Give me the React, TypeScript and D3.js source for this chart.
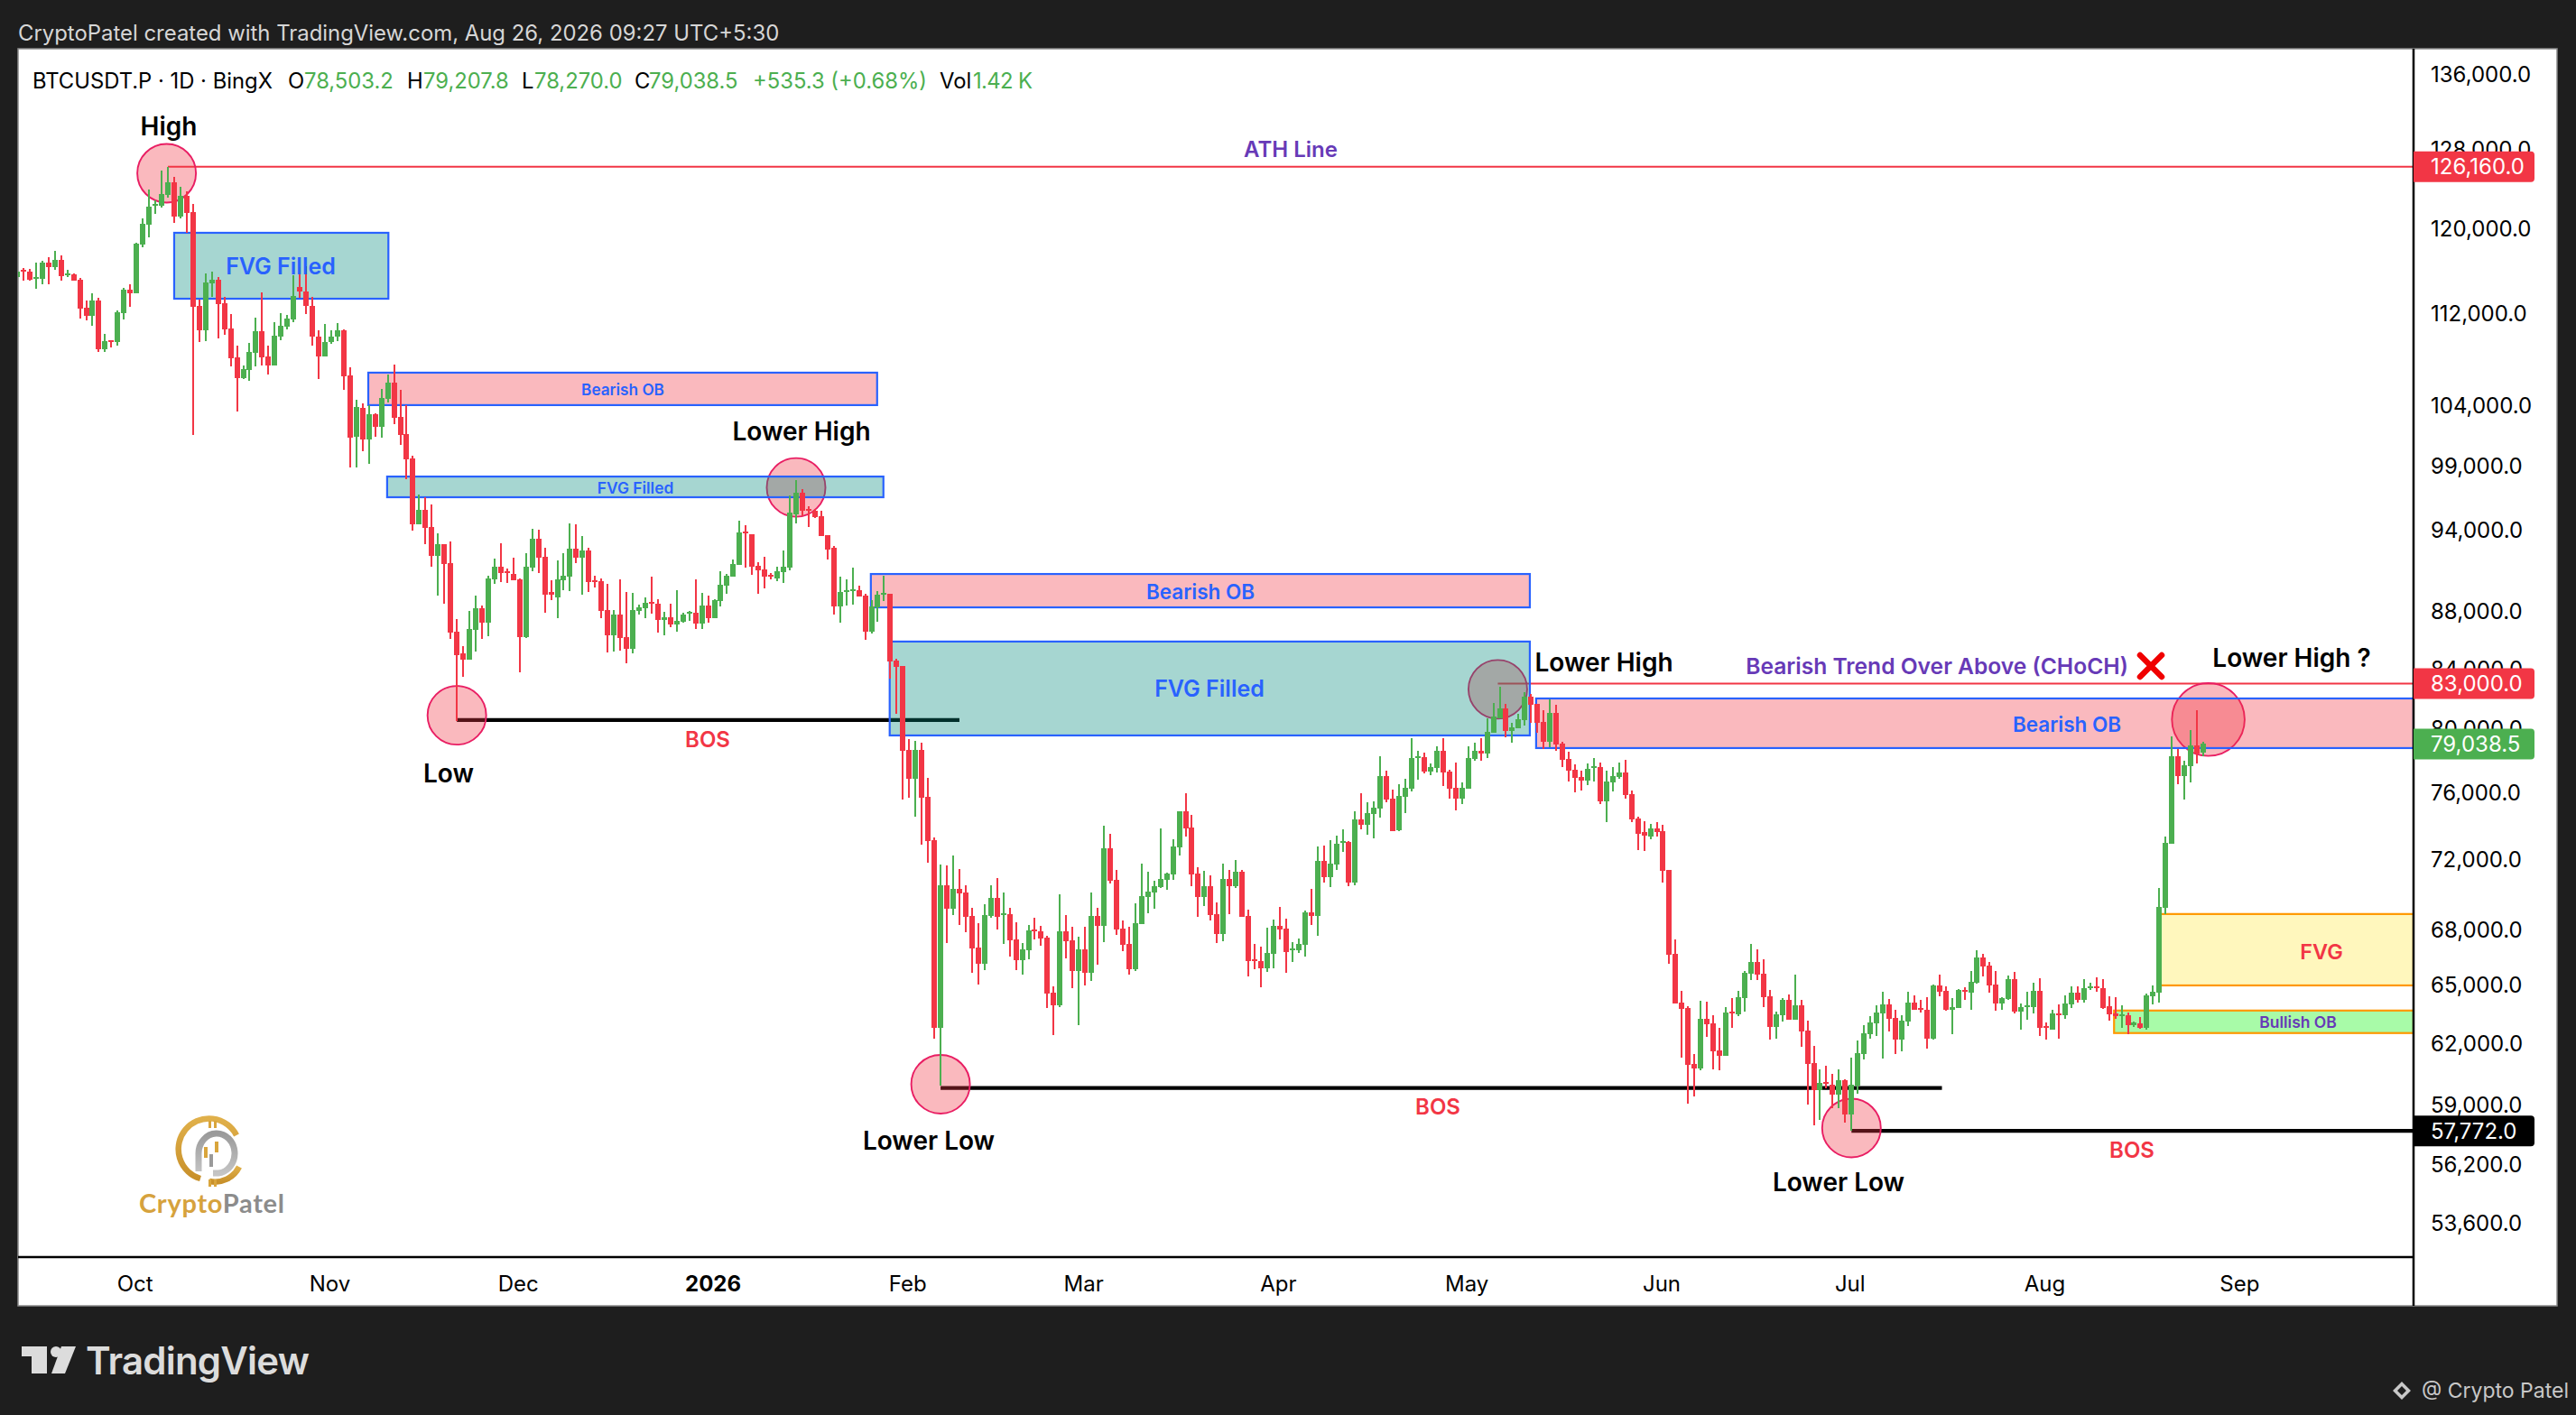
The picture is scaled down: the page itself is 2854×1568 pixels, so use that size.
import React from "react";
import * as d3 from "d3";

// Daily candles as [open, high, low, close], one small list per calendar month (BTCUSDT.P, BingX)
const sep2025: number[][] = [
[115350,116140,115290,115880],[116060,116230,115040,115880],[115880,116140,115040,115120],[115290,116730,114290,115350],[115200,116910,114700,116730],
[116730,117250,114700,116310],[116310,117850,116060,117000],[117000,117420,115040,115460],[115540,116060,115350,115710],[115630,115710,115040,115040],
[115120,115290,111570,112470],[112550,113200,111400,111810],[111810,113870,110920,113200],[113200,113450,108590,108830],[108830,110190,108590,109540],
[109620,109620,108990,109460],[109460,112300,109140,112140],[112050,114370,111490,114200],[114200,114700,112630,113870],
];
const oct2025: number[][] = [
[113870,118630,113870,118540],[118460,121000,118200,120470],[120380,123860,119150,122150],[122240,122780,121440,122420],[122240,125780,122060,123410],
[123320,126160,123050,124590],[124590,125140,120560,121170],[121170,124130,121000,123230],[123230,123680,119580,121530],[121620,122420,101520,112630],
[112710,113280,109460,110500],[110500,115710,109540,114870],[114790,115880,113530,115120],[115120,115350,109780,112880],[112960,113530,110110,110590],
[110680,111980,107330,108030],[108110,109140,103470,106310],[106310,107410,106230,107090],[107010,109380,106080,108590],[108510,111650,107330,110430],
[110430,113950,107410,108110],[108190,109140,106640,107410],[107410,111240,107410,110030],[109950,112050,109620,110920],[110840,111900,110590,111570],
[111490,115540,111240,113610],[114460,116310,113450,114040],[114040,116400,111980,112710],[112710,113530,109140,109950],[109950,110500,106230,108190],
[108190,111080,108190,109460],
];
const nov2025: number[][] = [
[109460,110500,109300,109950],[109950,111160,109540,110500],[110500,110590,105300,106470],[106540,107250,98880,101300],[101370,104460,98880,103860],
[103780,104160,100200,101150],[101150,104010,99180,103240],[103240,103320,101370,102200],[102200,105380,101300,104610],[104540,106620,104230,105920],
[105920,107490,102420,102950],[103020,105300,100710,101520],[101600,104010,97950,99540],[99620,99830,93950,94430],[94430,96740,94430,95550],
[95550,96530,92930,94160],[94230,95970,91240,92050],[92050,93740,89130,92930],[92930,92930,88540,91440],[91510,93130,86070,86510],
[86570,87460,80530,84930],[85060,85560,83460,84630],[84630,88030,84630,86760],[86700,89130,85190,88220],[88220,88420,86070,87200],
[87200,90580,86250,90380],[90320,91850,89990,91240],[91240,93000,90120,90780],[90910,91110,90050,90780],[90710,91910,90250,90250],
];
const dec2025: number[][] = [
[90320,90380,83770,86190],[86190,92250,86130,91240],[91170,94090,90910,93330],[93330,94020,90780,91910],[91980,92650,87900,89190],
[89390,90250,88800,89190],[89000,91710,87520,90320],[90250,92250,89520,90580],[90510,94500,89460,92580],[92580,94430,91510,91910],
[91910,93540,89190,92450],[92450,92650,89390,90120],[90250,90580,89720,90120],[90190,90380,87520,88030],[88090,89990,85120,86320],
[86320,88090,85190,87770],[87770,90320,85250,86130],[86190,89390,84380,85380],[85380,89330,85060,88090],[88030,88480,87770,88290],
[88220,89000,87520,88610],[88680,90510,87840,88550],[88550,88870,86510,87390],[87390,87970,86320,87580],[87580,88550,86890,87070],
[87070,89520,86570,87330],[87260,87900,87200,87770],[87840,88030,87330,87970],[87900,90320,86760,87140],[87140,89330,86760,88420],
[88420,89130,87200,87520],
];
const jan2026: number[][] = [
[87520,88870,87520,88800],[88740,90910,88350,89920],[89860,90710,89260,90580],[90510,91780,90510,91440],[91380,94700,91380,93810],
[93880,94360,91170,93740],[93670,93670,90650,91240],[91310,91580,89260,90980],[91040,91980,89650,90510],[90650,90780,90320,90510],
[90380,91240,90190,90910],[90850,92450,90050,91240],[91170,96670,90980,95340],[95200,97880,94500,96880],[96880,97170,95060,95480],
[95620,95830,94230,95480],[95480,95620,94920,95000],[95060,95480,93540,93540],[93600,93600,91780,92520],[92650,92790,87770,88350],
[88350,90510,87200,89390],[89390,90320,88420,89520],[89460,91170,88480,89590],[89520,89860,89070,89070],[89130,89260,86000,86570],
[86570,88800,86440,88350],[88290,89460,87260,89190],[89190,90580,88740,89330],[89260,89260,83340,84500],[84570,84690,81000,84130],
[84190,84190,75560,78600],
];
const feb2026: number[][] = [
[78660,79360,75670,76840],[76840,79240,74530,78660],[78660,79130,72860,75670],[75730,76900,71800,73070],[73130,73290,62270,62820],
[62820,71700,59950,70500],[70500,71640,67280,69170],[69170,72220,68820,70300],[70300,71430,68270,70040],[70090,70500,67870,68720],
[68770,69220,65680,66990],[67040,68370,65050,66160],[66160,69430,65820,68820],[68770,70500,68670,69780],[69780,70910,68020,68720],
[68820,70090,67240,68920],[68870,69220,66550,67430],[67480,68420,65820,66360],[66360,67280,65580,66940],[66890,68270,66400,67970],
[68020,68670,67480,67920],[67920,68220,67140,67530],[67580,67680,63830,64580],[64630,64960,62450,63970],[63970,69990,63880,67920],
[67920,68820,66450,67380],[67430,68170,64860,65770],[65770,67630,62950,66940],
];
const mar2026: number[][] = [
[66940,68170,65000,65680],[65680,70090,65240,68770],[68770,69220,66110,68220],[68220,73980,67330,72640],[72640,73500,70600,70760],
[70810,71380,67730,68020],[68070,68520,66840,67190],[67240,68170,65580,65870],[65870,69480,65770,68370],[68320,71750,68320,69890],
[69840,71280,68920,70140],[70090,70760,69170,70450],[70400,73820,70350,70860],[70810,71230,70250,71180],[71120,73180,70810,72750],
[72700,74850,72220,74850],[74850,75950,73340,73820],[73870,74630,70450,71120],[71180,71540,68720,69840],[69840,71330,69320,70450],
[70450,71070,68520,68820],[68870,69530,67280,67780],[67780,71750,67380,70860],[70860,71380,68870,70450],[70450,71950,70350,71280],
[71280,71380,68720,68720],[68770,69120,65480,66310],[66400,67240,65870,66310],[66310,67090,64910,65920],[65920,68120,65720,66750],
[66700,68570,65920,68220],
];
const apr2026: number[][] = [
[68220,69270,67480,68020],[68070,68620,65680,66790],[66890,67330,66260,66990],[66890,67530,66750,67240],[67190,69070,66550,68970],
[68970,70300,68270,68770],[68770,72750,67680,71900],[71900,72800,70650,70960],[70960,73130,70400,71750],[71700,73390,71380,72910],
[72960,73760,72430,73070],[73020,73070,70450,70650],[70650,74850,70500,74360],[74360,75950,73760,74030],[74030,75400,73440,74740],
[74690,75450,73230,75060],[75010,78260,74470,77010],[77010,77350,75400,75560],[75620,76170,73660,73660],[73710,76510,73660,75790],
[75730,76840,74740,76290],[76230,79420,76060,78150],[78150,78600,76790,78260],[78210,78490,77180,77290],[77290,77810,77070,77580],
[77520,78890,77240,78600],[78600,79420,76400,77240],[77290,77410,75620,76230],[76290,77870,74910,75620],[75620,76620,75290,76290],
];
const may2026: number[][] = [
[76230,78890,76230,78150],[78090,79130,77980,78600],[78600,79420,77980,78430],[78430,80710,78150,79820],[79760,81710,79760,80830],
[80710,82790,80710,81350],[81350,81650,79470,79880],[79880,80410,79130,80120],[80060,81000,80060,80650],[80590,82430,80240,82130],
[82130,82310,80410,81590],[81650,81650,79760,80410],[80470,81240,78720,79180],[79180,81950,78840,81060],[81060,81590,78600,79010],
[79070,79180,77580,78040],[78090,78550,76670,77350],[77410,77750,76010,76900],[76950,77350,76120,76730],[76730,77810,76450,77470],
[77520,78150,76670,77640],[77580,77870,75290,75450],[75450,77350,74200,76670],[76620,77580,76060,77010],[76950,77870,76840,77240],
[77240,78040,75620,75840],[75900,76120,74200,74360],[74420,74530,72530,73500],[73600,74250,72480,73390],[73340,74090,73180,73820],
[73820,74200,73340,73600],
];
const jun2026: number[][] = [
[73660,74030,70650,71330],[71380,71380,66160,66650],[66700,67480,64070,64070],[64110,64720,61320,63780],[63830,63920,59070,60960],
[61000,61500,59420,60780],[60780,64210,60700,63280],[63280,64160,62360,63000],[63050,63460,60740,61630],[61680,62820,60700,61410],
[61410,63880,61410,63600],[63640,64350,62820,63550],[63510,64720,63410,64390],[64350,65770,63640,65680],[65630,67240,65290,66260],
[66260,66940,65290,65580],[65630,66400,63880,64390],[64440,64770,62220,62860],[62860,63640,62270,63510],[63460,64350,63140,64250],
[64250,64540,63230,63230],[63230,65580,63230,63970],[63970,64250,61860,62640],[62680,63190,59030,61000],[61050,61900,58040,59730],
[59730,60740,58300,60080],[60120,60920,59810,60030],[59990,60520,58860,59510],[59510,60740,58860,60210],[60210,60250,58170,58550],
];
const jul2026: number[][] = [
[58550,61320,57772,59990],[59950,62180,59550,61540],[61500,62950,61230,62540],[62500,63410,62270,63090],[63050,63970,62410,63600],
[63550,64680,61280,64020],[64020,64300,62640,63280],[63320,63740,61500,62220],[62220,63460,61630,63190],[63140,64680,62910,64110],
[64110,64490,63740,63740],[63830,64250,63600,63740],[63740,64390,61770,62270],[62270,65050,62220,65000],[65000,65580,64440,64680],
[64720,64960,63690,63740],[63740,64350,62500,63880],[63830,64820,63830,64770],[64770,64910,64250,64680],[64630,65770,63740,65190],
[65150,66890,65100,66500],[66500,66700,65480,66010],[66060,66260,64630,65000],[65050,65770,63690,64070],[64070,64390,63740,64350],
[64300,65530,64250,65340],[65340,65720,63550,63640],[63640,64070,62720,63880],[63880,64680,63230,63970],[63880,65150,63550,64720],
[64720,65390,62410,62820],
];
const aug2026: number[][] = [
[62910,63090,62220,62860],[62720,63740,62720,63550],[63550,64020,62270,63510],[63460,64490,63280,64070],[64020,64960,63830,64630],
[64630,64960,64110,64250],[64250,65340,64110,64870],[64870,65150,64770,64960],[64960,65440,64680,64870],[64870,65340,63780,63830],
[63920,64440,63190,63510],[63550,64390,63280,63410],[63410,63970,62820,63510],[63460,63600,62500,62950],[62950,63140,62860,63090],
[63050,63370,62770,62820],[62820,64580,62720,64490],[64440,65000,64020,64680],[64630,70350,64110,69270],[69220,73340,68870,72960],
[72910,79530,72910,78260],[78260,78720,76510,77010],[77010,77980,75560,77700],[77640,79940,76620,78950],[78950,81240,77810,78430],
[78503.2,79207.8,78270,79038.5],
];
const candles = [sep2025, oct2025, nov2025, dec2025, jan2026, feb2026, mar2026, apr2026, may2026, jun2026, jul2026, aug2026].flat();

// Day index 1 = 12 Sep 2025
const monthTicks: [number, string, boolean][] = [
  [20, "Oct", false], [51, "Nov", false], [81, "Dec", false], [112, "2026", true], [143, "Feb", false], [171, "Mar", false],
  [202, "Apr", false], [232, "May", false], [263, "Jun", false], [293, "Jul", false], [324, "Aug", false], [355, "Sep", false],
];
const priceTicks = [136000, 128000, 120000, 112000, 104000, 99000, 94000, 88000, 84000, 80000, 76000, 72000, 68000, 65000, 62000, 59000, 56200, 53600];
const priceTags: [number, string][] = [[126160, "#f23645"], [83000, "#f23645"], [79038.5, "#4caf50"], [57772, "#000000"]];

// Drawn zones: [from day, to day, upper price, lower price]
const LAST_DAY = 382.47;
const tealZones = [[26, 60.1, 119590, 113370], [59.9, 138.9, 98160, 96530], [139.9, 241.8, 85880, 79590]];
const pinkZones = [[56.9, 137.9, 106780, 104010], [136.9, 241.8, 90710, 88290], [242.8, LAST_DAY, 82010, 78780]];
const yellowZones = [[342.1, LAST_DAY, 68870, 65000]];
const greenZones = [[334.8, LAST_DAY, 63690, 62540]];
// [from day, to day, price]
const redLines = [[25, LAST_DAY, 126160], [236.7, LAST_DAY, 83000]];
const bosLines = [[71, 151, 80590], [148, 307.4, 59820], [293, LAST_DAY, 57772]];
// [day, price, radius factor]
const circles = [[24.8, 125500, 1], [71, 80900, 1], [125, 97300, 1], [148, 60000, 1], [236.7, 82620, 1], [293, 57910, 1], [349.8, 80620, 1.24]];

const W = 2854, H = 1568;
const paneL = 20, paneT = 54, paneR = 2674, paneB = 1393, frameR = 2833, frameB = 1447;
const FONT = "Inter, 'Noto Sans', sans-serif";
const UP = "#4caf50", DOWN = "#f23645", BLUE = "#2962ff", PURPLE = "#673ab7", INK = "#000000";

const x = d3.scaleLinear().domain([1.149, LAST_DAY]).range([paneL, paneR]);
const y = d3.scaleLog().domain([138820, 52160]).range([paneT, paneB]);
const fmt = d3.format(",.1f");

function Zone({ z, fill, stroke }: { z: number[]; fill: string; stroke: string }) {
  return <rect x={x(z[0])} y={y(z[2])} width={x(z[1]) - x(z[0])} height={y(z[3]) - y(z[2])} fill={fill} stroke={stroke} strokeWidth={2.2} />;
}
function Label({ px, py, text, size, color, weight = 600 }: { px: number; py: number; text: string; size: number; color: string; weight?: number }) {
  return <text x={px} y={py} fontSize={size} fill={color} fontWeight={weight} textAnchor="middle" dominantBaseline="central">{text}</text>;
}

export default function App() {
  const bodyW = 6;
  return (
    <svg width={W} height={H} viewBox={`0 0 ${W} ${H}`} fontFamily={FONT} style={{ position: "fixed", left: 0, top: 0, display: "block" }}>
      <defs>
        <clipPath id="pane"><rect x={paneL} y={paneT} width={paneR - paneL} height={paneB - paneT} /></clipPath>
        <linearGradient id="gold" x1="0" y1="0" x2="0" y2="1"><stop offset="0" stopColor="#e0b04a" /><stop offset="1" stopColor="#c8902a" /></linearGradient>
        <linearGradient id="silver" x1="0" y1="0" x2="0" y2="1"><stop offset="0" stopColor="#9a9a9a" /><stop offset="1" stopColor="#c4c4c4" /></linearGradient>
      </defs>
      <rect width={W} height={H} fill="#1e1e1e" />
      <text x={20} y={36} fontSize={23.9} fill="#d6d6d6" dominantBaseline="central">CryptoPatel created with TradingView.com, Aug 26, 2026 09:27 UTC+5:30</text>
      <rect x={paneL} y={paneT} width={frameR - paneL} height={frameB - paneT} fill="#ffffff" stroke="#8a8a8a" strokeWidth={1.5} />

      {/* legend */}
      <g fontSize={23.8} dominantBaseline="central">
        <text x={36} y={89} fill={INK}>BTCUSDT.P · 1D · BingX</text>
        <text x={319} y={89} fill={INK}>O</text><text x={337} y={89} fill={UP}>78,503.2</text>
        <text x={451} y={89} fill={INK}>H</text><text x={469} y={89} fill={UP}>79,207.8</text>
        <text x={578} y={89} fill={INK}>L</text><text x={592} y={89} fill={UP}>78,270.0</text>
        <text x={703} y={89} fill={INK}>C</text><text x={719} y={89} fill={UP}>79,038.5</text>
        <text x={834} y={89} fill={UP}>+535.3 (+0.68%)</text>
        <text x={1041} y={89} fill={INK}>Vol</text><text x={1078} y={89} fill={UP} letterSpacing={-0.6}>1.42 K</text>
      </g>

      <g clipPath="url(#pane)">
        {bosLines.map((l, i) => <line key={i} x1={x(l[0])} x2={x(l[1])} y1={y(l[2])} y2={y(l[2])} stroke="#000" strokeWidth={4.2} />)}
        {redLines.map((l, i) => <line key={i} x1={x(l[0])} x2={x(l[1])} y1={y(l[2])} y2={y(l[2])} stroke={DOWN} strokeWidth={2} />)}
        {circles.map((c, i) => <circle key={i} cx={x(c[0])} cy={y(c[1])} r={32.5 * c[2]} fill="rgba(242,54,69,0.35)" stroke="#e91e63" strokeWidth={1.9} />)}
        {pinkZones.map((z, i) => <Zone key={i} z={z} fill="rgba(242,54,69,0.35)" stroke={BLUE} />)}
        {tealZones.map((z, i) => <Zone key={i} z={z} fill="rgba(0,137,123,0.35)" stroke={BLUE} />)}
        {yellowZones.map((z, i) => <Zone key={i} z={z} fill="#fff7bd" stroke="#ff9800" />)}
        {greenZones.map((z, i) => <Zone key={i} z={z} fill="#a8fba8" stroke="#ff9800" />)}
        {candles.map(([o, h, l, c], i) => {
          const cx = Math.round(x(i + 1));
          const col = c >= o ? UP : DOWN;
          const top = y(Math.max(o, c));
          const bh = Math.max(2, y(Math.min(o, c)) - top);
          return (
            <g key={i} shapeRendering="crispEdges" fill={col}>
              <rect x={cx - 1} y={y(h)} width={2} height={Math.max(1, y(l) - y(h))} />
              <rect x={cx - bodyW / 2} y={top} width={bodyW} height={bh} />
            </g>
          );
        })}
      </g>

      {/* annotations */}
      <g>
        <Label px={187} py={140} text="High" size={28} color={INK} />
        <Label px={497} py={857} text="Low" size={28} color={INK} />
        <Label px={888} py={478} text="Lower High" size={28} color={INK} />
        <Label px={1029} py={1264} text="Lower Low" size={28} color={INK} />
        <Label px={1777} py={734} text="Lower High" size={28} color={INK} />
        <Label px={2037} py={1310} text="Lower Low" size={28} color={INK} />
        <Label px={2539} py={729} text="Lower High ?" size={28} color={INK} />
        <Label px={311} py={295} text="FVG Filled" size={25} color={BLUE} />
        <Label px={690} py={431} text="Bearish OB" size={17.2} color={BLUE} />
        <Label px={704} py={540} text="FVG Filled" size={17.4} color={BLUE} />
        <Label px={1330} py={655} text="Bearish OB" size={22.5} color={BLUE} />
        <Label px={1340} py={763} text="FVG Filled" size={25} color={BLUE} />
        <Label px={2290} py={802} text="Bearish OB" size={22.5} color={BLUE} />
        <Label px={1430} py={165} text="ATH Line" size={24} color={PURPLE} />
        <Label px={2146} py={738} text="Bearish Trend Over Above (CHoCH)" size={24.6} color={PURPLE} />
        <Label px={784} py={819} text="BOS" size={24} color={DOWN} />
        <Label px={1593} py={1226} text="BOS" size={24} color={DOWN} />
        <Label px={2362} py={1274} text="BOS" size={24} color={DOWN} />
        <Label px={2572} py={1054} text="FVG" size={23.5} color={DOWN} />
        <Label px={2546} py={1132} text="Bullish OB" size={17.5} color={PURPLE} />
        <path d="M2371 726 L2395 750 M2395 726 L2371 750" stroke="#f00000" strokeWidth={6.5} strokeLinecap="round" fill="none" />
      </g>

      {/* logo */}
      <g transform="translate(0,3)">
        <path d="M 223 1304 A 34 34 0 1 1 263 1256" fill="none" stroke="url(#gold)" strokeWidth={6.5} transform="translate(-1,-1)" />
        <path d="M 265 1290 A 30 30 0 0 1 232 1306" fill="none" stroke="url(#gold)" strokeWidth={6.5} />
        <rect x={231} y={1239} width={3} height={8} fill="#d9a53c" /><rect x={237} y={1239} width={3} height={8} fill="#d9a53c" />
        <rect x={231} y={1304} width={3} height={8} fill="#d9a53c" /><rect x={237} y={1304} width={3} height={8} fill="#d9a53c" />
        <path d="M 220 1295 L 220 1275 A 20 22 0 1 1 242 1297 L 236 1297" fill="none" stroke="url(#silver)" strokeWidth={7} />
        <rect x={226} y={1268} width={4} height={12} fill="#d9a53c" /><rect x={232} y={1276} width={4} height={14} fill="#9a9a9a" /><rect x={238} y={1262} width={4} height={12} fill="#d9a53c" />
      </g>
      <text x={154} y={1332} fontSize={29} fontWeight={700} fontFamily="Lato, sans-serif" dominantBaseline="central" textLength={161}>
        <tspan fill="#d6a23d">Crypto</tspan><tspan fill="#8c8c8c">Patel</tspan>
      </text>

      {/* axes */}
      <line x1={paneL} x2={paneR} y1={paneB} y2={paneB} stroke="#000" strokeWidth={2.5} />
      <line x1={paneR} x2={paneR} y1={paneT} y2={frameB} stroke="#000" strokeWidth={2.5} />
      <g fontSize={24} fill={INK} dominantBaseline="central">
        {priceTicks.map(p => <text key={p} x={2693} y={y(p)}>{fmt(p)}</text>)}
      </g>
      {priceTags.map(([p, col]) => (
        <g key={p}>
          <path d={`M${paneR} ${y(p) - 17} H2804 a4 4 0 0 1 4 4 V${y(p) + 13} a4 4 0 0 1 -4 4 H${paneR} Z`} fill={col} />
          <text x={2693} y={y(p)} fontSize={24} fill="#ffffff" dominantBaseline="central">{fmt(p)}</text>
        </g>
      ))}
      <g fontSize={24} fill={INK} dominantBaseline="central" textAnchor="middle">
        {monthTicks.map(([d, s, b]) => <text key={s} x={x(d) - 1.5} y={1422} fontWeight={b ? 700 : 400}>{s}</text>)}
      </g>

      {/* TradingView mark */}
      <g fill="#dcdcdc">
        <path d="M24 1492 H52 V1522 H35 V1503 H24 Z" />
        <circle cx={62} cy={1498} r={6} />
        <path d="M68 1492 H84 L72 1522 H57 Z" />
        <text x={95} y={1507} fontSize={42} fontWeight={600} dominantBaseline="central" letterSpacing={-0.8}>TradingView</text>
      </g>
      <g fill="#c8c8c8">
        <path d="M2661 1531 L2671 1541 L2661 1551 L2651 1541 Z M2661 1536 L2656 1541 L2661 1546 L2666 1541 Z" fillRule="evenodd" />
        <text x={2683} y={1541} fontSize={23} dominantBaseline="central">@ Crypto Patel</text>
      </g>
    </svg>
  );
}
